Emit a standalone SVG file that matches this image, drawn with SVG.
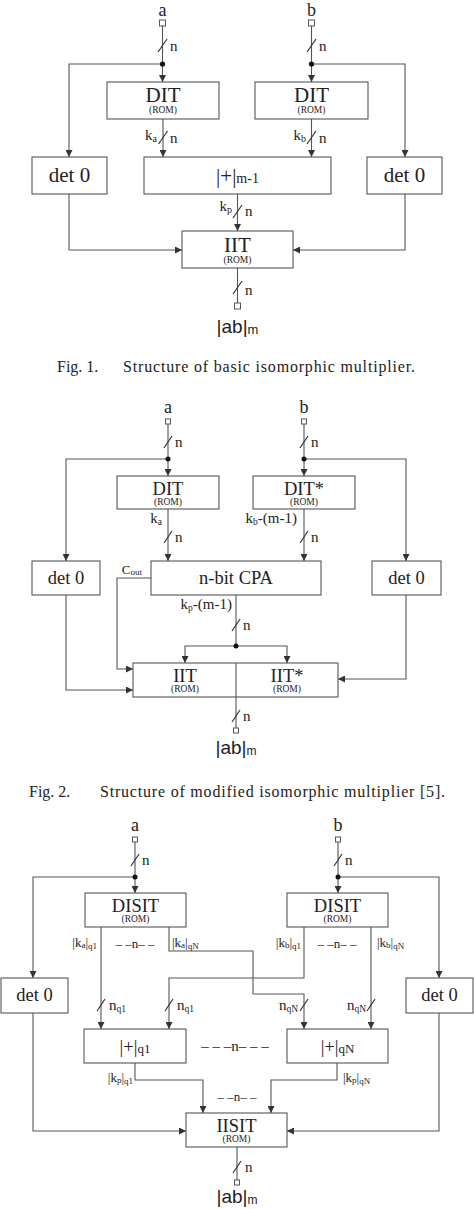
<svg xmlns="http://www.w3.org/2000/svg" width="474" height="1209" viewBox="0 0 474 1209">
<defs>
<marker id="arr" markerUnits="userSpaceOnUse" markerWidth="8" markerHeight="7" refX="7" refY="3.5" orient="auto">
<path d="M0,0 L7,3.5 L0,7 z" fill="#333"/>
</marker>
<style>
.ln{fill:none;stroke:#555;stroke-width:1.1}
.ar{fill:none;stroke:#555;stroke-width:1.1;marker-end:url(#arr)}
.bx{fill:#fff;stroke:#555;stroke-width:1.1}
.sl{stroke:#333;stroke-width:1.2}
.dot{fill:#111}
.pin{fill:#fff;stroke:#555;stroke-width:1}
text{font-family:"Liberation Serif","Times New Roman",serif;fill:#222}
.t1{font-size:21px;text-anchor:middle}
.t2{font-size:18.5px;text-anchor:middle}
.rom{font-size:9.5px;text-anchor:middle}
.lb{font-size:15px}
.sm{font-size:13px}
.io{font-size:18px;text-anchor:middle}
.ab{font-family:"Liberation Sans",Arial,sans-serif;font-size:19px;text-anchor:middle}
.cap{font-size:16px}
.mid{text-anchor:middle}
.end{text-anchor:end}
</style>
</defs>

<!-- ================= FIGURE 1 ================= -->
<g id="connectors1">
<line class="ln" x1="162.5" y1="26" x2="162.5" y2="64"/>
<line class="ar" x1="162.5" y1="64" x2="162.5" y2="82"/>
<path class="ar" d="M162.5 64 H69 V157"/>
<line class="ln" x1="311.5" y1="26" x2="311.5" y2="64"/>
<line class="ar" x1="311.5" y1="64" x2="311.5" y2="82"/>
<path class="ar" d="M311.5 64 H405 V157"/>
<line class="ar" x1="163" y1="119" x2="163" y2="157"/>
<line class="ar" x1="311.5" y1="119" x2="311.5" y2="157"/>
<line class="ar" x1="237.5" y1="194" x2="237.5" y2="231"/>
<path class="ar" d="M69 194 V250 H182"/>
<path class="ar" d="M405 194 V250 H293"/>
<line class="ln" x1="237.5" y1="268" x2="237.5" y2="303"/>
<circle class="dot" cx="162.5" cy="64" r="2.6"/>
<circle class="dot" cx="311.5" cy="64" r="2.6"/>
<line class="sl" x1="158" y1="52" x2="167" y2="39"/>
<line class="sl" x1="307" y1="52" x2="316" y2="39"/>
<line class="sl" x1="158.5" y1="144" x2="167.5" y2="131"/>
<line class="sl" x1="307" y1="144" x2="316" y2="131"/>
<line class="sl" x1="233" y1="218" x2="242" y2="205"/>
<line class="sl" x1="233" y1="294" x2="242" y2="281"/>
<rect class="pin" x="159.5" y="20" width="6" height="6"/>
<rect class="pin" x="308.5" y="20" width="6" height="6"/>
<rect class="pin" x="234.5" y="303" width="6" height="6"/>
</g>
<g id="f1-labels">
<text class="io" x="162.5" y="16">a</text>
<text class="io" x="311.5" y="16">b</text>
<text class="lb" x="170" y="51">n</text>
<text class="lb" x="319" y="51">n</text>
<text class="lb end" x="157" y="140">k<tspan font-size="10" dy="2">a</tspan></text>
<text class="lb" x="170" y="143">n</text>
<text class="lb end" x="306" y="140">k<tspan font-size="10" dy="2">b</tspan></text>
<text class="lb" x="319" y="143">n</text>
<text class="lb end" x="232" y="211">k<tspan font-size="10" dy="2">p</tspan></text>
<text class="lb" x="245" y="216">n</text>
<text class="lb" x="245" y="295">n</text>
<text class="ab" x="237.5" y="333">|ab|<tspan font-size="13" dy="1">m</tspan></text>
</g>
<g id="f1-dit-a"><rect class="bx" x="107" y="82" width="112" height="37"/><text class="t1" x="163" y="102">DIT</text><text class="rom" x="163" y="113">(ROM)</text></g>
<g id="f1-dit-b"><rect class="bx" x="255" y="82" width="113" height="37"/><text class="t1" x="311.5" y="102">DIT</text><text class="rom" x="311.5" y="113">(ROM)</text></g>
<g id="f1-det0-a"><rect class="bx" x="32" y="157" width="75" height="37"/><text class="t1" x="69.5" y="182">det 0</text></g>
<g id="f1-add"><rect class="bx" x="144" y="157" width="187" height="37"/><text class="t1" x="237.5" y="183">|+|<tspan font-size="14" dy="0">m-1</tspan></text></g>
<g id="f1-det0-b"><rect class="bx" x="367" y="157" width="75" height="37"/><text class="t1" x="404.5" y="182">det 0</text></g>
<g id="f1-iit"><rect class="bx" x="182" y="231" width="111" height="37"/><text class="t1" x="237.5" y="252">IIT</text><text class="rom" x="237.5" y="263">(ROM)</text></g>
<g id="caption1">
<text class="cap" x="57" y="372">Fig. 1.</text>
<text class="cap" x="123" y="372" textLength="292" lengthAdjust="spacing">Structure of basic isomorphic multiplier.</text>
</g>

<!-- ================= FIGURE 2 ================= -->
<g id="connectors2">
<line class="ln" x1="168" y1="424" x2="168" y2="459"/>
<line class="ar" x1="168" y1="459" x2="168" y2="476"/>
<path class="ar" d="M168 459 H66 V561"/>
<line class="ln" x1="304" y1="424" x2="304" y2="459"/>
<line class="ar" x1="304" y1="459" x2="304" y2="476"/>
<path class="ar" d="M304 459 H406 V561"/>
<line class="ar" x1="168" y1="509" x2="168" y2="561"/>
<line class="ar" x1="304" y1="509" x2="304" y2="561"/>
<path class="ar" d="M151 578 H117 V669 H133"/>
<path class="ar" d="M66 595 V690 H133"/>
<path class="ar" d="M406 595 V679 H338"/>
<line class="ln" x1="236" y1="595" x2="236" y2="646"/>
<path class="ar" d="M236 646 H185 V663"/>
<path class="ar" d="M236 646 H287 V663"/>
<line class="ln" x1="236" y1="697" x2="236" y2="728"/>
<circle class="dot" cx="168" cy="459" r="2.5"/>
<circle class="dot" cx="304" cy="459" r="2.5"/>
<circle class="dot" cx="236" cy="646" r="2.5"/>
<line class="sl" x1="164" y1="448" x2="172" y2="436"/>
<line class="sl" x1="300" y1="448" x2="308" y2="436"/>
<line class="sl" x1="164" y1="543" x2="172" y2="531"/>
<line class="sl" x1="300" y1="543" x2="308" y2="531"/>
<line class="sl" x1="232" y1="631" x2="240" y2="619"/>
<line class="sl" x1="232" y1="722" x2="240" y2="710"/>
<rect class="pin" x="165.5" y="419" width="5" height="5"/>
<rect class="pin" x="301.5" y="419" width="5" height="5"/>
<rect class="pin" x="233.5" y="728" width="5" height="5"/>
</g>
<g id="f2-labels">
<text class="io" x="168" y="413">a</text>
<text class="io" x="304" y="413">b</text>
<text class="lb" x="175" y="447">n</text>
<text class="lb" x="311" y="447">n</text>
<text class="lb end" x="162" y="523">k<tspan font-size="9.5" dy="2">a</tspan></text>
<text class="lb" x="175" y="542">n</text>
<text class="lb end" x="297" y="523">k<tspan font-size="9.5" dy="2">b</tspan><tspan dy="-2">-(m-1)</tspan></text>
<text class="lb" x="311" y="542">n</text>
<text class="sm end" x="142" y="574">C<tspan font-size="9" dy="1">out</tspan></text>
<text class="lb end" x="232" y="609">k<tspan font-size="9.5" dy="2">p</tspan><tspan dy="-2">-(m-1)</tspan></text>
<text class="lb" x="243" y="630">n</text>
<text class="lb" x="243" y="721">n</text>
<text class="ab" x="236" y="754">|ab|<tspan font-size="12" dy="1">m</tspan></text>
</g>
<g id="f2-dit"><rect class="bx" x="117" y="476" width="102" height="33"/><text class="t2" x="168" y="495">DIT</text><text class="rom" x="168" y="505">(ROM)</text></g>
<g id="f2-dit-star"><rect class="bx" x="253" y="476" width="102" height="33"/><text class="t2" x="304" y="495">DIT*</text><text class="rom" x="304" y="505">(ROM)</text></g>
<g id="f2-det0-a"><rect class="bx" x="32" y="561" width="68" height="34"/><text class="t2" x="66" y="584">det 0</text></g>
<g id="f2-cpa"><rect class="bx" x="151" y="561" width="170" height="34"/><text class="t2" x="236" y="584">n-bit CPA</text></g>
<g id="f2-det0-b"><rect class="bx" x="372" y="561" width="69" height="34"/><text class="t2" x="406.5" y="584">det 0</text></g>
<g id="f2-iit"><rect class="bx" x="133" y="663" width="205" height="34"/><line class="ln" x1="236" y1="663" x2="236" y2="697"/><text class="t2" x="185" y="682">IIT</text><text class="rom" x="185" y="692">(ROM)</text><text class="t2" x="287" y="682">IIT*</text><text class="rom" x="287" y="692">(ROM)</text></g>
<g id="caption2">
<text class="cap" x="29" y="797">Fig. 2.</text>
<text class="cap" x="100" y="797" textLength="345" lengthAdjust="spacing">Structure of modified isomorphic multiplier [5].</text>
</g>

<!-- ================= FIGURE 3 ================= -->
<g id="connectors3">
<line class="ln" x1="135" y1="842" x2="135" y2="877"/>
<line class="ar" x1="135" y1="877" x2="135" y2="893"/>
<path class="ar" d="M135 877 H33 V978"/>
<line class="ln" x1="338" y1="842" x2="338" y2="877"/>
<line class="ar" x1="338" y1="877" x2="338" y2="893"/>
<path class="ar" d="M338 877 H439 V978"/>
<line class="ar" x1="101" y1="927" x2="101" y2="1029"/>
<path class="ar" d="M169 927 V951 H253 V994 H304 V1029"/>
<path class="ar" d="M304 927 V978 H169 V1029"/>
<line class="ar" x1="371" y1="927" x2="371" y2="1029"/>
<path class="ar" d="M135 1063 V1080 H203 V1113"/>
<path class="ar" d="M337 1063 V1080 H271 V1113"/>
<path class="ar" d="M33 1013 V1131 H186"/>
<path class="ar" d="M439 1013 V1131 H287"/>
<line class="ln" x1="237" y1="1147" x2="237" y2="1180"/>
<circle class="dot" cx="135" cy="877" r="2.5"/>
<circle class="dot" cx="338" cy="877" r="2.5"/>
<line class="sl" x1="131" y1="866" x2="139" y2="854"/>
<line class="sl" x1="334" y1="866" x2="342" y2="854"/>
<line class="sl" x1="97" y1="1011" x2="105" y2="999"/>
<line class="sl" x1="165" y1="1011" x2="173" y2="999"/>
<line class="sl" x1="300" y1="1011" x2="308" y2="999"/>
<line class="sl" x1="367" y1="1011" x2="375" y2="999"/>
<line class="sl" x1="233" y1="1173" x2="241" y2="1161"/>
<rect class="pin" x="132.5" y="837" width="5" height="5"/>
<rect class="pin" x="335.5" y="837" width="5" height="5"/>
<rect class="pin" x="234.5" y="1180" width="5" height="5"/>
</g>
<g id="f3-labels">
<text class="io" x="135" y="831">a</text>
<text class="io" x="338" y="831">b</text>
<text class="lb" x="142" y="865">n</text>
<text class="lb" x="345" y="865">n</text>
<text class="sm end" x="97" y="947">|k<tspan font-size="9" dy="1">a</tspan><tspan dy="-1">|</tspan><tspan font-size="9" dy="2">q1</tspan></text>
<text class="sm" x="172" y="947">|k<tspan font-size="9" dy="1">a</tspan><tspan dy="-1">|</tspan><tspan font-size="9" dy="2">qN</tspan></text>
<text class="sm end" x="301" y="947">|k<tspan font-size="9" dy="1">b</tspan><tspan dy="-1">|</tspan><tspan font-size="9" dy="2">q1</tspan></text>
<text class="sm" x="377" y="947">|k<tspan font-size="9" dy="1">b</tspan><tspan dy="-1">|</tspan><tspan font-size="9" dy="2">qN</tspan></text>
<text class="sm mid" x="135" y="948">– –n– –</text>
<text class="sm mid" x="337" y="948">– –n– –</text>
<text class="lb" x="109" y="1010">n<tspan font-size="9.5" dy="2">q1</tspan></text>
<text class="lb" x="177" y="1010">n<tspan font-size="9.5" dy="2">q1</tspan></text>
<text class="lb end" x="298" y="1010">n<tspan font-size="9.5" dy="2">qN</tspan></text>
<text class="lb end" x="366" y="1010">n<tspan font-size="9.5" dy="2">qN</tspan></text>
<text class="lb mid" x="235" y="1051">– – –n– – –</text>
<text class="sm end" x="133" y="1082">|k<tspan font-size="9" dy="1">p</tspan><tspan dy="-1">|</tspan><tspan font-size="9" dy="2">q1</tspan></text>
<text class="sm" x="343" y="1082">|k<tspan font-size="9" dy="1">p</tspan><tspan dy="-1">|</tspan><tspan font-size="9" dy="2">qN</tspan></text>
<text class="sm mid" x="237" y="1101">– –n– –</text>
<text class="lb" x="245" y="1172">n</text>
<text class="ab" x="237" y="1203">|ab|<tspan font-size="12" dy="1">m</tspan></text>
</g>
<g id="f3-disit-a"><rect class="bx" x="85" y="893" width="101" height="34"/><text class="t2" x="135.5" y="912">DISIT</text><text class="rom" x="135.5" y="922">(ROM)</text></g>
<g id="f3-disit-b"><rect class="bx" x="287" y="893" width="101" height="34"/><text class="t2" x="337.5" y="912">DISIT</text><text class="rom" x="337.5" y="922">(ROM)</text></g>
<g id="f3-det0-a"><rect class="bx" x="1" y="978" width="67" height="35"/><text class="t2" x="34.5" y="1001">det 0</text></g>
<g id="f3-det0-b"><rect class="bx" x="406" y="978" width="67" height="35"/><text class="t2" x="439.5" y="1001">det 0</text></g>
<g id="f3-add-q1"><rect class="bx" x="84" y="1029" width="102" height="34"/><text class="t2" x="135" y="1053">|+|<tspan font-size="13">q1</tspan></text></g>
<g id="f3-add-qN"><rect class="bx" x="287" y="1029" width="101" height="34"/><text class="t2" x="337.5" y="1053">|+|<tspan font-size="13">qN</tspan></text></g>
<g id="f3-iisit"><rect class="bx" x="186" y="1113" width="101" height="34"/><text class="t2" x="236.5" y="1132">IISIT</text><text class="rom" x="236.5" y="1142">(ROM)</text></g>
</svg>
